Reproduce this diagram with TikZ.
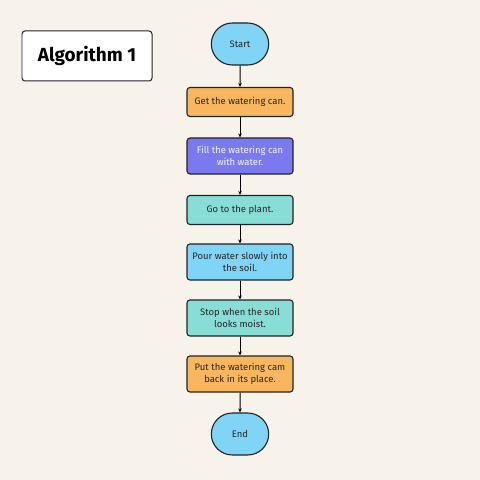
\documentclass[tikz,border=0pt]{standalone}
\usepackage{fontspec}
\setmainfont{Fira Sans}
\usetikzlibrary{arrows.meta,shapes.misc}
\definecolor{bgcol}{HTML}{F7F3EB}
\definecolor{orangebox}{HTML}{F8B75E}
\definecolor{purplebox}{HTML}{7A7AEE}
\definecolor{tealbox}{HTML}{88DDD6}
\definecolor{bluebox}{HTML}{80D4F5}
\definecolor{edgecol}{HTML}{222222}
\tikzset{
	stepbox/.style={draw=edgecol, line width=1.1pt, rounded corners=3pt, minimum width=106bp, minimum height=29bp, align=center, font=\fontsize{9.5}{12.5}\selectfont, text=black!85},
	term/.style={draw=edgecol, line width=1.1pt, rounded rectangle, fill=bluebox, minimum width=64bp, minimum height=42bp, font=\fontsize{9.5}{12.5}\selectfont, text=black!85},
	flow/.style={-{Stealth[length=4pt,width=3.5pt]}, line width=1pt, draw=black}
}
\begin{document}
\begin{tikzpicture}[x=1bp,y=-1bp]
			%%%%% BACKGROUND %%%%%
			\fill[bgcol] (0,0) rectangle (480,480);
			\useasboundingbox (0,0) rectangle (480,480);
			
			%%%%% TITLE %%%%%
			\node[draw=edgecol, line width=1pt, fill=white, rounded corners=3pt, minimum width=130bp, minimum height=50bp, font=\fontsize{19}{22}\selectfont\bfseries] (title) at (87, 56) {Algorithm 1};
			
			%%%%% STEPS %%%%%
			\node[term] (start) at (240, 44) {Start};
			\node[stepbox, fill=orangebox] (get) at (240, 102) {Get the watering can.};
			\node[stepbox, fill=purplebox, minimum height=36bp, text=white!92!purplebox] (fill) at (240, 156) {Fill the watering can\\with water.};
			\node[stepbox, fill=tealbox] (go) at (240, 210) {Go to the plant.};
			\node[stepbox, fill=bluebox, minimum height=36bp] (pour) at (240, 262) {Pour water slowly into\\the soil.};
			\node[stepbox, fill=tealbox, minimum height=36bp] (stop) at (240, 318) {Stop when the soil\\looks moist.};
			\node[stepbox, fill=orangebox, minimum height=36bp] (put) at (240, 374) {Put the watering cam\\back in its place.};
			\node[term] (end) at (240, 434) {End};
			
			%%%%% ARROWS %%%%%
			\draw[flow] (start) -- (get);
			\draw[flow] (get) -- (fill);
			\draw[flow] (fill) -- (go);
			\draw[flow] (go) -- (pour);
			\draw[flow] (pour) -- (stop);
			\draw[flow] (stop) -- (put);
			\draw[flow] (put) -- (end);
			
			%%%%% END %%%%%
		\end{tikzpicture}
\end{document}
